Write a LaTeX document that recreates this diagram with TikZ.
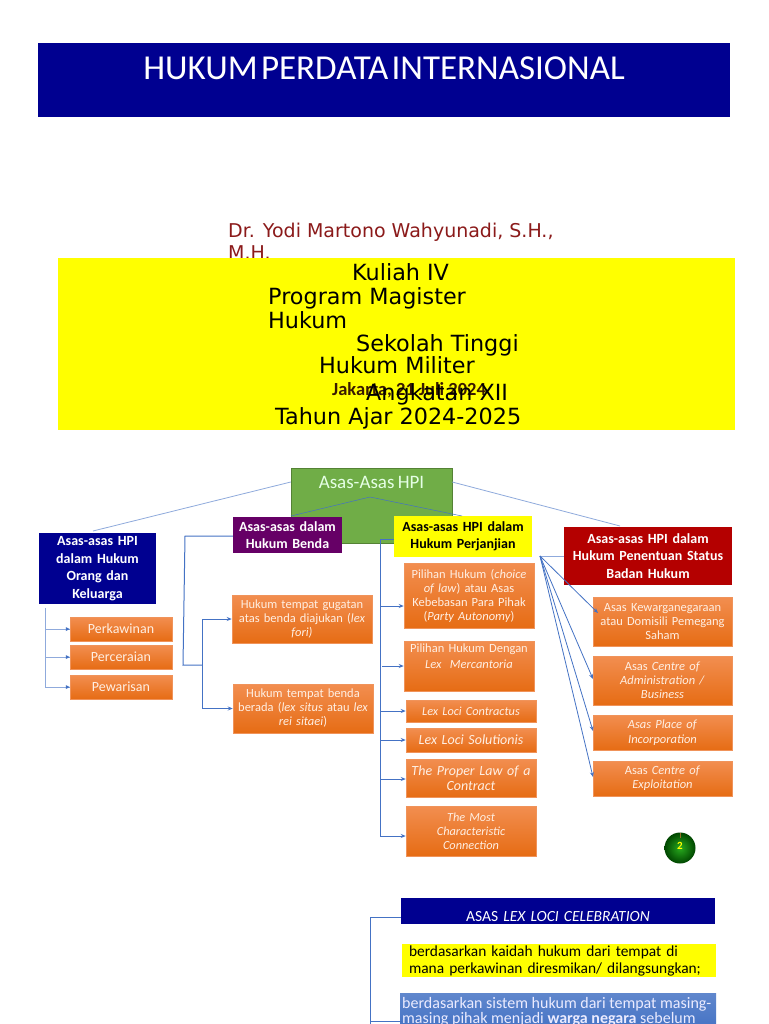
\documentclass[tikz,border=0pt]{standalone}
\usepackage{fontspec}
\setmainfont{Carlito}
\newfontfamily\dejavu{DejaVu Sans}
\usetikzlibrary{arrows.meta}
\definecolor{navyb}{HTML}{000090}
\definecolor{yel}{RGB}{255,255,0}
\definecolor{oTop}{HTML}{F28E50}
\definecolor{oBot}{HTML}{E66C14}
\definecolor{oEdge}{HTML}{F0935A}
\definecolor{link}{HTML}{4472C4}
\definecolor{linkl}{HTML}{8FAADC}
\definecolor{oText}{HTML}{FFEFE3}
\definecolor{rootg}{RGB}{112,173,71}
\definecolor{rootd}{RGB}{84,130,53}
\definecolor{purp}{RGB}{102,0,102}
\definecolor{redb}{RGB}{180,0,0}
\definecolor{badgei}{RGB}{40,170,30}
\definecolor{badgeo}{RGB}{0,70,0}
\definecolor{badgel}{RGB}{150,110,40}
\definecolor{authorc}{HTML}{8B1A1A}
\definecolor{jktc}{HTML}{3A1A00}
\tikzset{
  x=1pt,y=-1pt,
  boxbase/.style={inner sep=1pt,align=center,text=white},
  headtext/.style={font={\bfseries\fontsize{14}{17.5}\selectfont}},
  orange box/.style={boxbase,top color=oTop,bottom color=oBot,draw=oEdge,line width=.5pt,text=oText,font={\fontsize{12.5}{14}\selectfont}},
  conn/.style={draw=link,line width=1pt},
  connl/.style={draw=linkl,line width=.8pt},
  arr/.style={conn,-{Stealth[length=5pt,width=4pt]}},
  sub/.style={font={\dejavu\fontsize{22.3}{24}\selectfont},inner sep=0pt,anchor=base west,text=black},
  authortext/.style={inner sep=0,anchor=base west,text=authorc,font={\dejavu\fontsize{19}{22}\selectfont}},
  lowtext/.style={inner sep=0,anchor=base west,text=white!92!blue,font={\fontsize{16}{15}\selectfont}},
}
% name, x1, y1, x2, y2, style, text
\newcommand\bx[7]{\node[boxbase,#6,minimum width={(#4-#2)*1pt},minimum height={(#5-#3)*1pt},text width={(#4-#2-6)*1pt}] (#1) at ({(#2+#4)/2},{(#3+#5)/2}) {#7};}
\newcommand\shiftup[2]{\smash{\raisebox{#1}{#2}}}
\begin{document}
\begin{tikzpicture}
\useasboundingbox (0,0) rectangle (768,1024);
\clip (0,0) rectangle (768,1024);
\fill[white] (0,0) rectangle (768,1024);

% title
\bx{title}{38}{43}{730}{117}{fill=navyb}{\shiftup{0pt}{\fontsize{35}{38}\selectfont HUKUM PERDATA INTERNASIONAL}}

% author
\node[authortext] (author) at (228,237) {Dr. Yodi Martono Wahyunadi, S.H.,};
\node[authortext] (author2) at (228,259.5) {M.H.};

% yellow band
\fill[yel] (58,258) rectangle (735,430);
\node[sub] (l1) at (352,280) {Kuliah IV};
\node[sub] (l2) at (268,304) {Program Magister};
\node[sub] (l3) at (268,328) {Hukum};
\node[sub] (l4) at (356,351) {Sekolah Tinggi};
\node[sub] (l5) at (319,373) {Hukum Militer};
\node[inner sep=0,anchor=base west,text=jktc,font={\bfseries\fontsize{18.5}{20}\selectfont}] (jkt) at (332,395) {Jakarta, 21 Juli 2024};
\node[sub] (l6) at (366,400) {Angkatan XII};
\node[sub] (l7) at (275,424) {Tahun Ajar 2024-2025};

% root
\bx{root}{291}{468}{452}{543}{fill=rootg,draw=rootd,line width=.5pt}{\shiftup{17.5pt}{\textcolor{white!90!green}{\fontsize{19}{20}\selectfont Asas-Asas HPI}}}

\coordinate (fork) at (370,497);

% head boxes
\bx{orang}{39}{533}{156}{604}{fill=navyb,headtext}{Asas-asas HPI\\dalam Hukum\\Orang dan\\Keluarga}
\bx{benda}{233}{517}{342}{553}{fill=purp,headtext}{Asas-asas dalam\\Hukum Benda}
\bx{janji}{394}{516}{532}{557}{fill=yel,headtext,text=black}{Asas-asas HPI dalam\\Hukum Perjanjian}
\bx{badan}{564}{527}{732}{585}{fill=redb,headtext}{Asas-asas HPI dalam\\Hukum Penentuan Status\\Badan Hukum}

% top level links
\draw[connl] (root.west |- 0,482) -- (93,531);
\draw[connl] (root.east |- 0,482) -- (620,526);
\draw[conn,line width=.5pt] (fork) -- (291,516);
\draw[conn,line width=.5pt] (fork) -- (462,516);

% orang children
\bx{kawin}{70}{617}{172}{641}{orange box,font={\fontsize{14}{16}\selectfont}}{Perkawinan}
\bx{cerai}{70}{645}{172}{669}{orange box,font={\fontsize{14}{16}\selectfont}}{Perceraian}
\bx{waris}{70}{675}{172}{699}{orange box,font={\fontsize{14}{16}\selectfont}}{Pewarisan}
\coordinate (ot) at (45,608);
\draw[connl,line width=1pt] (ot) -- (ot |- waris.west) -- (waris.west);
\draw[connl,line width=1pt] (ot |- kawin.west) -- (kawin.west);
\draw[connl,line width=1pt] (ot |- cerai.west) -- (cerai.west);
\foreach \t in {kawin,cerai,waris}{\fill[link] (\t.west) ++(-4,-2) -- (\t.west) -- ++(-4,2) -- cycle;}

% benda children
\bx{gugat}{232}{595}{372}{643}{orange box}{Hukum tempat gugatan\\atas benda diajukan (\textit{lex}\\\textit{fori)}}
\bx{berada}{233}{684}{373}{733}{orange box}{Hukum tempat benda\\berada (\textit{lex situs} atau \textit{lex}\\\textit{rei sitaei})}
\coordinate (bn) at (185,536);
\coordinate (bs) at (183,665);
\coordinate (bj) at (202,665);
\draw[conn] (benda.west |- bn) -- (bn) -- (bs) -- (bj);
\draw[arr] (bj) -- (bj |- gugat.west) -- (gugat.west);
\draw[arr] (bj) -- (bj |- berada.west) -- (berada.west);

% perjanjian children
\bx{choice}{404}{563}{534}{628}{orange box}{Pilihan Hukum (\textit{choice}\\\textit{of law}) atau Asas\\Kebebasan Para Pihak\\(\textit{Party Autonomy})}
\bx{merc}{404}{641}{534}{691}{orange box,font={\fontsize{12.5}{15.5}\selectfont}}{Pilihan Hukum Dengan\\\textit{Lex\ \ Mercantoria}\\[4pt]~}
\bx{contr}{406}{700}{536}{722}{orange box,font={\itshape\fontsize{12.3}{14}\selectfont}}{Lex Loci Contractus}
\bx{solut}{406}{728}{536}{752}{orange box,font={\itshape\fontsize{14}{16}\selectfont}}{Lex Loci Solutionis}
\bx{proper}{406}{759}{536}{797}{orange box,font={\itshape\fontsize{14}{15.5}\selectfont}}{The Proper Law of a\\Contract}
\bx{most}{406}{806}{536}{856}{orange box,font={\itshape\fontsize{12.3}{13.8}\selectfont}}{The Most\\Characteristic\\Connection}
\coordinate (jt) at (380,539);
\coordinate (jb) at (380,836);
\coordinate (j1) at (380,606);
\coordinate (j2) at (382,666);
\coordinate (j3) at (380,711);
\coordinate (j4) at (380,740);
\coordinate (j5) at (380,779);
\draw[conn] (janji.west |- jt) -- (jt) -- (jb);
\draw[arr] (j1) -- (j1 -| choice.west);
\draw[arr] (j2) -- (j2 -| merc.west);
\draw[arr] (j3) -- (j3 -| contr.west);
\draw[arr] (j4) -- (j4 -| solut.west);
\draw[arr] (j5) -- (j5 -| proper.west);
\draw[arr] (jb) -- (jb -| most.west);

% badan children
\bx{warga}{593}{597}{732}{646}{orange box}{Asas Kewarganegaraan\\atau Domisili Pemegang\\Saham}
\bx{admin}{593}{656}{732}{705}{orange box}{Asas \textit{Centre of}\\\textit{Administration /}\\\textit{Business}}
\bx{place}{593}{715}{732}{750}{orange box,font={\fontsize{12.5}{15.5}\selectfont}}{\textit{Asas Place of}\\\textit{Incorporation}}
\bx{explo}{593}{761}{732}{796}{orange box}{Asas \textit{Centre of}\\\textit{Exploitation}}
\coordinate (hub) at (540,556);
\draw[connl] (badan.west |- hub) -- (hub);
\draw[arr,line width=.8pt] (hub) -- (598,613);
\draw[arr,line width=.8pt] (hub) -- (593,679);
\draw[arr,line width=.8pt] (hub) -- (593,731);
\draw[arr,line width=.8pt] (hub) -- (593,777);

% page badge
\shade[inner color=badgei,outer color=badgeo] (680,848) circle (15.5);
\draw[draw=badgel,line width=.6pt] (680,838) -- (680,833);
\node[inner sep=0,text=yel,font={\bfseries\fontsize{11}{12}\selectfont}] (badge) at (680,846) {2};

% bottom section
\bx{celeb}{401}{898}{715}{924}{fill=navyb,font={\fontsize{15.5}{17}\selectfont}}{\shiftup{-10pt}{ASAS \textit{LEX LOCI CELEBRATION}}}
\bx{kaidah}{402}{944}{716}{977}{fill=yel,text=black,align=left,font={\fontsize{15.4}{17}\selectfont}}{\hspace*{4pt}berdasarkan kaidah hukum dari tempat di\\\hspace*{4pt}mana perkawinan diresmikan/ dilangsungkan;}
\fill[top color=link!85!white,bottom color=link] (400,993) rectangle (716,1030);
\node[lowtext] (wn1) at (402,1008) {berdasarkan sistem hukum dari tempat masing-};
\node[lowtext] (wn2) at (402,1023) {masing pihak menjadi \textbf{warga negara} sebelum};
\coordinate (cb) at (370,1030);
\coordinate (cj) at (370,1021);
\draw[conn] (celeb.west |- 0,917) -- (cj |- 0,917) -- (cb);
\draw[conn] (cj) -- (cj -| wn1.west);
\end{tikzpicture}
\end{document}
